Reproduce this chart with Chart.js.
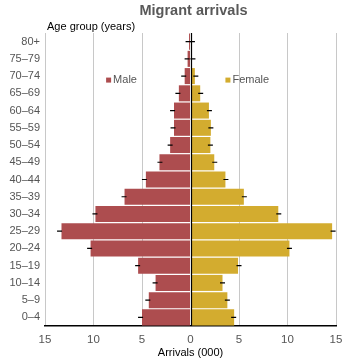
<!DOCTYPE html>
<html>
<head>
<meta charset="utf-8">
<script src="https://cdn.jsdelivr.net/npm/chart.js@4/dist/chart.umd.min.js"></script>
<style>
html,body{margin:0;padding:0;background:#fff;}
#wrap{position:relative;width:362px;height:364px;}
</style>
</head>
<body>
<div id="wrap"><canvas id="c" width="362" height="364"></canvas></div>
<script>
const categories = ['0–4','5–9','10–14','15–19','20–24','25–29','30–34','35–39','40–44','45–49','50–54','55–59','60–64','65–69','70–74','75–79','80+'];
const male = [5.0, 4.3, 3.6, 5.4, 10.3, 13.3, 9.8, 6.8, 4.6, 3.2, 2.1, 1.7, 1.7, 1.2, 0.6, 0.3, 0.15];
const maleMarker = [5.15, 4.4, 3.65, 5.45, 10.4, 13.5, 9.85, 6.85, 4.75, 3.15, 2.1, 1.8, 1.85, 1.3, 0.7, 0.35, 0.25];
const female = [4.5, 3.8, 3.3, 4.9, 10.2, 14.6, 9.05, 5.5, 3.6, 2.45, 2.05, 2.1, 1.9, 1.0, 0.45, 0.12, 0.12];
const femaleMarker = [4.45, 3.8, 3.3, 5.0, 10.2, 14.7, 9.1, 5.55, 3.65, 2.5, 2.05, 2.1, 1.95, 1.05, 0.55, 0.25, 0.2];
const xTicks = [-15, -10, -5, 0, 5, 10, 15];
const title = 'Migrant arrivals';
const yTitle = 'Age group (years)';
const xTitle = 'Arrivals (000)';
const seriesNames = ['Male', 'Female'];
const colors = ['#AD4D4F', '#D3AC2F'];

const FONT = "'Liberation Sans', Arial, sans-serif";

const overlay = {
  id: 'overlay',
  afterDatasetsDraw(chart) {
    const ctx = chart.ctx, a = chart.chartArea;
    const xs = chart.scales.x, ys = chart.scales.y;
    ctx.save();
    const x0 = Math.round(xs.getPixelForValue(0)) + 0.5;
    ctx.strokeStyle = '#000'; ctx.lineWidth = 1.2;
    ctx.beginPath(); ctx.moveTo(x0, a.top); ctx.lineTo(x0, a.bottom); ctx.stroke();
    ctx.fillStyle = '#595959';
    ctx.font = 'bold 14.5px ' + FONT;
    ctx.textAlign = 'center'; ctx.textBaseline = 'middle';
    ctx.fillText(title, (a.left + a.right) / 2 + 3, 11);
    ctx.fillStyle = '#000';
    ctx.font = '11px ' + FONT;
    ctx.textAlign = 'left'; ctx.textBaseline = 'alphabetic';
    ctx.fillText(yTitle, a.left + 2, 30);
    const ly = ys.getPixelForValue(14) + 4;
    const items = [[-8.7, 0], [3.6, 1]];
    ctx.font = '11px ' + FONT;
    ctx.textBaseline = 'middle';
    items.forEach(([v, i]) => {
      const lx = xs.getPixelForValue(v);
      ctx.fillStyle = colors[i];
      ctx.fillRect(lx, ly - 2.5, 5, 5);
      ctx.fillStyle = '#555';
      ctx.fillText(seriesNames[i], lx + 7, ly);
    });
    ctx.restore();
  }
};

new Chart(document.getElementById('c'), {
  type: 'bar',
  data: {
    labels: categories,
    datasets: [
      { label: seriesNames[0], data: male.map(v => -v), backgroundColor: colors[0], barPercentage: 0.93, categoryPercentage: 1, order: 2 },
      { label: seriesNames[1], data: female, backgroundColor: colors[1], barPercentage: 0.93, categoryPercentage: 1, order: 2 },
      { type: 'line', label: 'mm', data: maleMarker.map(v => -v), showLine: false, pointStyle: 'line', pointRadius: 2.5, pointBorderColor: '#000', pointBorderWidth: 1.2, borderColor: '#000', order: 1 },
      { type: 'line', label: 'fm', data: femaleMarker, showLine: false, pointStyle: 'line', pointRadius: 2.5, pointBorderColor: '#000', pointBorderWidth: 1.2, borderColor: '#000', order: 1 }
    ]
  },
  options: {
    indexAxis: 'y',
    responsive: false,
    animation: false,
    events: [],
    layout: { padding: { left: 0, right: 26, top: 33, bottom: 0 } },
    plugins: { legend: { display: false }, tooltip: { enabled: false }, title: { display: false } },
    scales: {
      x: {
        type: 'linear', min: -15, max: 15, stacked: false,
        afterBuildTicks(s) { s.ticks = xTicks.map(v => ({ value: v })); },
        afterFit(s) { s.height = 38; },
        grid: { color: c => c.tick && c.tick.value === 0 ? 'rgba(0,0,0,0)' : '#c8c8c8', lineWidth: 1, drawTicks: false },
        border: { display: true, color: '#000', width: 1.5 },
        ticks: { padding: 7, color: '#555', font: { family: FONT, size: 11.5 }, callback: v => Math.abs(v) },
        title: { display: true, text: xTitle, color: '#000', font: { family: FONT, size: 11 }, padding: { top: 4, bottom: 4 } }
      },
      y: {
        reverse: true, stacked: true,
        afterFit(s) { s.width = 45; },
        grid: { display: false, drawTicks: false },
        border: { display: false },
        ticks: { padding: 5, color: '#555', font: { family: FONT, size: 11 } }
      }
    }
  },
  plugins: [overlay]
});
</script>
</body>
</html>
